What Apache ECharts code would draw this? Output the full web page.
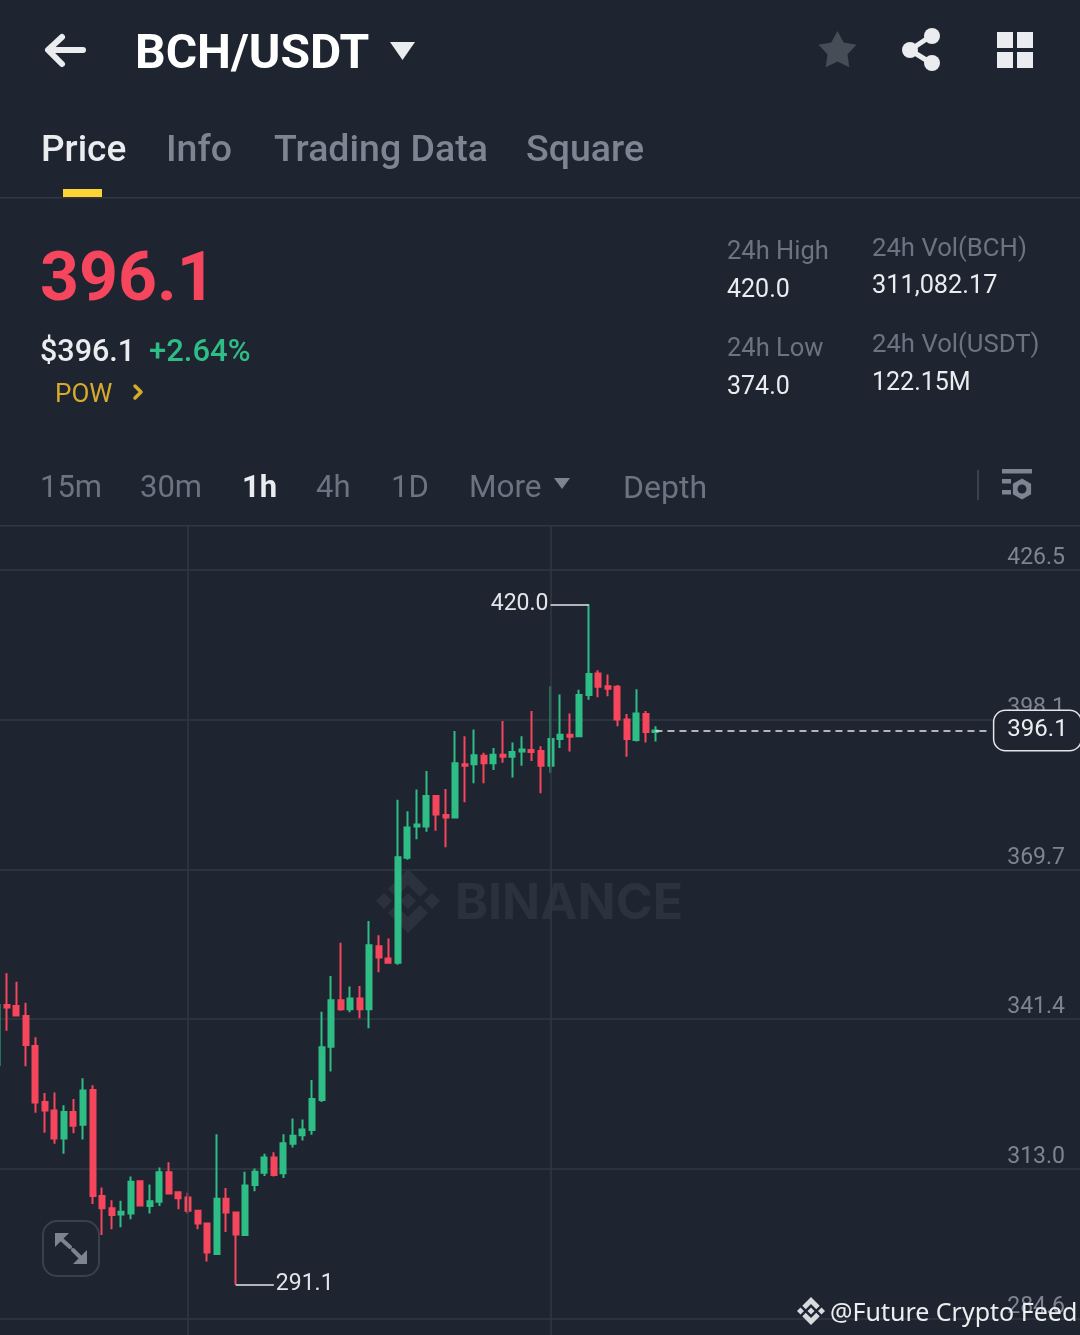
<!DOCTYPE html>
<html>
<head>
<meta charset="utf-8">
<title>BCH/USDT</title>
<script src="https://cdn.jsdelivr.net/npm/echarts@6/dist/echarts.min.js"></script>
<style>
  html, body { margin: 0; padding: 0; background: #1e2530; }
  #chart { width: 1080px; height: 1335px; }
</style>
</head>
<body>
<div id="chart"></div>
<script>
// hourly candles
const opens = [332.7,344.1,343.9,342.0,336.3,325.7,324.1,318.8,323.8,321.4,328.0,307.9,305.6,304.4,304.6,310.7,306.0,306.8,312.4,308.6,307.6,305.1,302.7,296.9,307.4,304.8,300.5,310.0,312.3,315.2,312.2,317.8,319.4,320.4,326.1,336.2,345.0,343.3,345.3,343.3,355.2,352.9,352.1,372.0,377.9,377.9,383.7,380.1,379.6,389.7,389.7,391.3,389.9,391.5,391.1,392.1,392.4,392.2,389.4,394.5,395.3,395.0,402.8,406.9,404.5,404.4,398.2,394.3,399.2,395.8];
const closes = [344.1,343.6,342.1,336.5,325.6,324.1,318.8,323.8,321.2,327.9,307.9,305.6,304.3,304.9,310.6,306.1,306.9,312.4,308.4,307.5,305.1,302.7,297.2,307.4,304.8,300.6,309.9,312.5,315.2,311.9,317.9,319.3,320.5,326.3,336.1,345.0,343.3,345.3,343.3,355.4,353.1,352.1,372.1,377.7,378.3,383.7,380.2,379.6,389.9,389.4,391.4,389.9,391.5,391.1,392.0,392.5,392.0,389.4,394.5,395.3,394.9,402.8,406.8,404.4,404.0,398.2,394.5,399.3,395.8,396.1];
const lows = [332.7,339.2,341.9,332.5,323.7,319.9,317.8,315.9,319.8,318.6,306.4,300.5,301.6,302.0,303.5,306.0,304.6,306.0,308.3,305.4,304.6,301.6,295.5,296.8,301.1,291.1,300.4,308.8,311.7,311.6,311.3,317.1,318.4,319.5,325.7,331.5,343.0,342.7,341.6,339.7,350.3,351.9,351.7,371.6,375.5,376.9,377.1,374.0,379.6,382.5,386.1,386.1,388.6,390.0,387.2,389.4,390.3,384.2,388.1,392.8,392.1,394.9,401.9,402.4,402.6,396.9,391.1,394.0,393.8,394.0];
const highs = [344.1,350.1,348.5,344.5,338.0,327.4,327.5,325.1,326.3,330.2,328.9,309.5,307.1,307.0,311.6,310.9,310.1,313.3,314.3,308.8,308.5,305.2,302.7,319.6,309.4,304.8,312.5,313.1,315.9,316.2,319.6,322.6,322.4,329.9,342.8,349.6,355.9,347.6,347.7,360.0,357.3,356.7,383.0,380.8,384.9,388.4,383.7,385.0,396.0,395.0,396.3,391.9,392.8,397.9,393.8,395.0,399.8,393.1,404.5,402.9,399.3,403.8,420.0,407.5,406.7,404.7,399.2,403.9,399.8,396.9];
const yTicks = [284.6,313.0,341.4,369.7,398.1,426.5];
const yMin = 281.57;
const yMax = 435.03;
const lastPrice = 396.1;
const highPrice = 420.0;
const lowPrice = 291.1;
const slotCount = 114; // the axis runs on empty to the right of the last candle

const categories = [];
for (let i = 0; i < slotCount; i++) {
  categories.push('h' + i);
}
const candles = opens.map((o, i) => [o, closes[i], lows[i], highs[i]]);

const UP = '#2ebd85';
const DOWN = '#f6465d';
const BG = '#1e2530';
const GRID = '#313843';
const MUTED = '#7d8592';
const DIM = '#6c7482';
const WHITE = '#eaecef';
const FONT = 'Roboto';

function text(str, x, y, size, color, weight, align, font) {
  return {
    type: 'text', z: 5, silent: true,
    style: {
      text: str, x: x, y: y + size * 0.08, fill: color,
      font: (weight || 'normal') + ' ' + size + 'px "' + (font || FONT) + '"',
      textAlign: align || 'left', textVerticalAlign: 'middle'
    }
  };
}
function poly(points, color, z) {
  return { type: 'polygon', z: z === undefined ? 5 : z, silent: true, shape: { points: points }, style: { fill: color } };
}
function line(points, color, width) {
  return { type: 'polyline', z: 5, silent: true, shape: { points: points }, style: { stroke: color, fill: null, lineWidth: width, lineCap: 'round', lineJoin: 'round' } };
}
function rect(x, y, w, h, color) {
  return { type: 'rect', z: 5, silent: true, shape: { x: x, y: y, width: w, height: h }, style: { fill: color } };
}
function dot(x, y, r, color) {
  return { type: 'circle', z: 5, silent: true, shape: { cx: x, cy: y, r: r }, style: { fill: color } };
}

// the five piece logo, r is half its width
function logo(cx, cy, r, color, z) {
  const u = r / 32;
  const pt = (a, b) => [cx + a * u, cy + b * u];
  return [
    poly([pt(0, -8), pt(8, 0), pt(0, 8), pt(-8, 0)], color, z),
    poly([pt(-32, 0), pt(-24, -8), pt(-16, 0), pt(-24, 8)], color, z),
    poly([pt(32, 0), pt(24, -8), pt(16, 0), pt(24, 8)], color, z),
    poly([pt(0, -32), pt(20, -12), pt(12, -4), pt(0, -16), pt(-12, -4), pt(-20, -12)], color, z),
    poly([pt(0, 32), pt(20, 12), pt(12, 4), pt(0, 16), pt(-12, 4), pt(-20, 12)], color, z)
  ];
}

const starPts = [];
for (let i = 0; i < 10; i++) {
  const r = i % 2 ? 10.5 : 20;
  const a = -Math.PI / 2 + i * Math.PI / 5;
  starPts.push([837.5 + r * Math.cos(a), 51 + r * Math.sin(a)]);
}
const hexPts = [];
for (let i = 0; i < 6; i++) {
  const a = -Math.PI / 2 + i * Math.PI / 3;
  hexPts.push([1022 + 10.5 * Math.cos(a), 489 + 10.5 * Math.sin(a)]);
}

const chrome = [
  // header
  line([[62, 37], [48, 50], [62, 64]], WHITE, 6),
  line([[50, 50], [83, 50]], WHITE, 6),
  text('BCH/USDT', 135, 52, 48, '#ffffff', 'bold'),
  poly([[390, 42], [415, 42], [402.5, 60]], WHITE),
  poly(starPts, '#474d57'),
  line([[931, 36], [910, 50], [931, 63]], WHITE, 5),
  dot(932, 36, 8, WHITE), dot(910, 50, 8, WHITE), dot(932, 63, 8, WHITE),
  rect(997, 32, 16, 16, WHITE), rect(1017, 32, 16, 16, WHITE),
  rect(997, 52, 16, 16, WHITE), rect(1017, 52, 16, 16, WHITE),

  // tabs
  text('Price', 41, 149, 37, WHITE, '500'),
  text('Info', 166, 149, 37.5, MUTED, '500'),
  text('Trading Data', 274, 149, 37.5, MUTED, '500'),
  text('Square', 526, 149, 37.5, MUTED, '500'),
  rect(0, 197, 1080, 1.5, GRID),
  rect(63, 189, 39, 8, '#fcd535'),

  // ticker
  text('396.1', 40, 278, 68, DOWN, 'bold'),
  text('$396.1', 40, 351, 30.5, WHITE, '500'),
  text('+2.64%', 149, 351, 31, UP, '500'),
  text('POW', 55, 393, 26, '#d6ab2c'),
  line([[135, 386], [141, 392], [135, 398]], '#d6ab2c', 3.5),
  text('24h High', 727, 251, 25.5, DIM),
  text('420.0', 727, 289, 25, WHITE),
  text('24h Low', 727, 348, 25.5, DIM),
  text('374.0', 727, 386, 25, WHITE),
  text('24h Vol(BCH)', 872, 248, 25.7, DIM),
  text('311,082.17', 872, 285, 25.3, WHITE),
  text('24h Vol(USDT)', 872, 344, 25.7, DIM),
  text('122.15M', 872, 382, 25, WHITE),

  // intervals
  text('15m', 40, 487, 31, DIM),
  text('30m', 140, 487, 31, DIM),
  text('1h', 242, 487, 31, WHITE, 'bold'),
  text('4h', 316, 487, 31, DIM),
  text('1D', 391, 487, 31, DIM),
  text('More', 469, 487, 31.5, DIM),
  poly([[554, 478], [570, 478], [562, 489]], MUTED),
  text('Depth', 623, 487, 32, DIM),
  rect(977, 470, 2, 30, '#3a414c'),
  rect(1002, 469, 30, 4.5, MUTED),
  rect(1002, 479, 9, 4.5, MUTED),
  rect(1002, 490, 9, 4.5, MUTED),
  poly(hexPts, MUTED),
  dot(1022, 489, 4.5, BG),
  rect(0, 525, 1080, 1.5, GRID),

  // expand button
  { type: 'rect', z: 5, silent: true, shape: { x: 43, y: 1221, width: 56, height: 55, r: 14 }, style: { fill: null, stroke: '#3a414c', lineWidth: 2 } },
  poly([[55, 1233], [69, 1233], [55, 1247]], MUTED),
  line([[60, 1238], [70, 1247]], MUTED, 4),
  poly([[87, 1264], [73, 1264], [87, 1250]], MUTED),
  line([[82, 1259], [73, 1250]], MUTED, 4),

  // reposter tag
  text('@Future Crypto Feed', 830, 1312, 25, '#eceef0', 'normal', 'left', 'Noto Sans')
].concat(logo(811, 1311, 14, '#d8dade'));

const watermark = logo(408, 901, 32, '#2b323d', 1).concat([
  { type: 'text', z: 1, silent: true, style: { text: 'BINANCE', x: 455, y: 904, fill: '#2b323d', font: 'bold 50px "Inter"', textVerticalAlign: 'middle' } }
]);

const chart = echarts.init(document.getElementById('chart'));
chart.setOption({
  animation: false,
  backgroundColor: BG,
  graphic: { elements: watermark.concat(chrome) },
  grid: { left: -7.6, right: 0, top: 525, bottom: 0, containLabel: false, outerBoundsMode: 'none' },
  xAxis: {
    type: 'category',
    data: categories,
    axisLine: { show: false },
    axisTick: { show: false },
    axisLabel: { show: false },
    splitLine: { show: false }
  },
  yAxis: {
    type: 'value',
    position: 'right',
    min: yMin,
    max: yMax,
    axisLine: { show: false },
    axisTick: { show: false, customValues: yTicks },
    splitLine: { show: true, lineStyle: { color: GRID, width: 1.5 } },
    axisLabel: {
      inside: true,
      customValues: yTicks,
      margin: 15,
      color: MUTED,
      fontSize: 23,
      fontFamily: FONT,
      verticalAlign: 'bottom',
      lineHeight: 24,
      formatter: v => v.toFixed(1)
    }
  },
  series: [
    {
      // vertical time lines sit under the candles
      type: 'line',
      z: 1,
      data: [],
      markLine: {
        silent: true,
        symbol: 'none',
        label: { show: false },
        lineStyle: { color: GRID, width: 1.5, type: 'solid' },
        data: [{ xAxis: 20 }, { xAxis: 58 }]
      }
    },
    {
      type: 'candlestick',
      z: 3,
      barWidth: 5.5,
      data: candles,
      itemStyle: { color: UP, color0: DOWN, borderColor: UP, borderColor0: DOWN, borderWidth: 2 },
      markLine: {
        silent: true,
        symbol: 'none',
        precision: 1,
        data: [
          [
            { coord: [58, highPrice], lineStyle: { color: '#e3e5e8', width: 1.5, type: 'solid' },
              label: { show: true, position: 'start', distance: 2, formatter: highPrice.toFixed(1), color: '#e3e5e8', fontSize: 23, fontFamily: FONT } },
            { coord: [62, highPrice] }
          ],
          [
            { coord: [25, lowPrice], lineStyle: { color: '#e3e5e8', width: 1.5, type: 'solid' },
              label: { show: true, position: 'end', distance: 2, formatter: lowPrice.toFixed(1), color: '#e3e5e8', fontSize: 23, fontFamily: FONT } },
            { coord: [29, lowPrice] }
          ],
          [
            { coord: [69, lastPrice], lineStyle: { color: '#e3e5e8', width: 1.5, type: [7, 5] },
              label: {
                show: true, position: 'end', distance: 5, formatter: lastPrice.toFixed(1),
                color: '#eceef0', fontSize: 24, fontFamily: FONT,
                backgroundColor: BG, borderColor: '#e3e5e8', borderWidth: 1.5, borderRadius: 11,
                padding: [9, 13, 6, 13]
              } },
            { coord: [104, lastPrice] }
          ]
        ]
      }
    }
  ]
});
</script>
</body>
</html>
